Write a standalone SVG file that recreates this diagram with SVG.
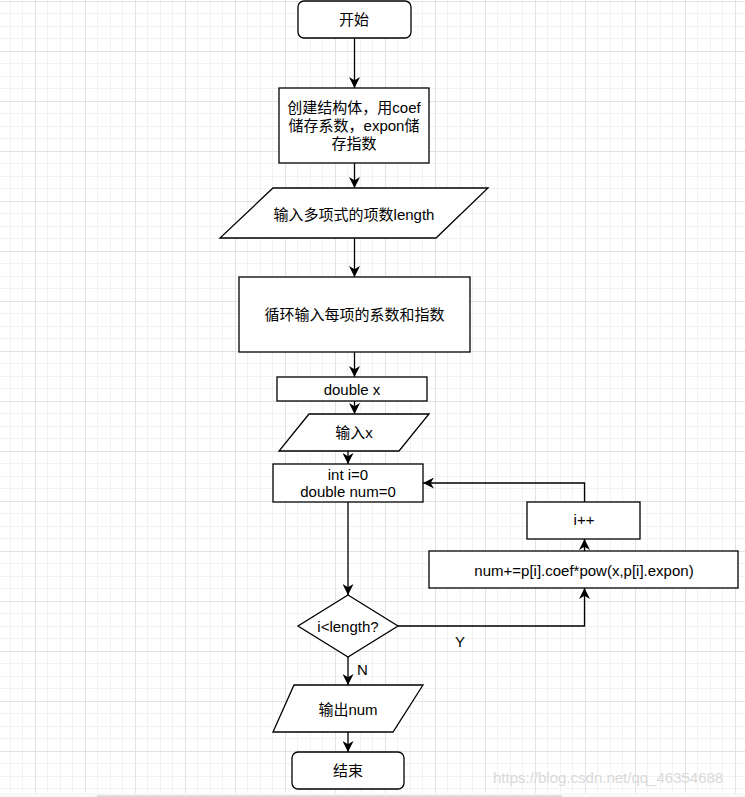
<svg xmlns="http://www.w3.org/2000/svg" width="745" height="797" viewBox="0 0 745 797">
<style>
.s{fill:#fff;stroke:#000;stroke-width:1.3}
.c{fill:none;stroke:#000;stroke-width:1.3}
text{font-family:"Liberation Sans","Noto Sans CJK SC",sans-serif;font-size:15px;fill:#000}
.m{text-anchor:middle}
</style>
<defs>
<pattern id="grid" patternUnits="userSpaceOnUse" x="35" y="1" width="50" height="50">
<rect x="12" y="0" width="1" height="50" fill="#f2f2f2"/>
<rect x="25" y="0" width="1" height="50" fill="#f2f2f2"/>
<rect x="37" y="0" width="1" height="50" fill="#f2f2f2"/>
<rect x="0" y="12" width="50" height="1" fill="#f2f2f2"/>
<rect x="0" y="25" width="50" height="1" fill="#f2f2f2"/>
<rect x="0" y="37" width="50" height="1" fill="#f2f2f2"/>
<rect x="0" y="0" width="1" height="50" fill="#e2e2e2"/>
<rect x="0" y="0" width="50" height="1" fill="#e2e2e2"/>
</pattern>
<marker id="arr" markerUnits="userSpaceOnUse" markerWidth="11" markerHeight="11" refX="10" refY="5" orient="auto" viewBox="0 0 10 10">
<path d="M0,0 L10,5 L0,10 L3,5 z" fill="#000"/>
</marker>
</defs>
<rect width="745" height="797" fill="#fff"/>
<rect width="745" height="793" fill="url(#grid)"/>
<rect x="0" y="793" width="745" height="4" fill="#f7f8fa"/>
<rect x="97" y="795" width="465" height="2" fill="#dedede"/>

<g id="connectors">
<path class="c" d="M354.5,38 V88" marker-end="url(#arr)"/>
<path class="c" d="M354.5,163 V188" marker-end="url(#arr)"/>
<path class="c" d="M354.5,238 V277" marker-end="url(#arr)"/>
<path class="c" d="M354.5,352 V377" marker-end="url(#arr)"/>
<path class="c" d="M354.5,401 V414" marker-end="url(#arr)"/>
<path class="c" d="M348,451 V464" marker-end="url(#arr)"/>
<path class="c" d="M348,502 V595" marker-end="url(#arr)"/>
<path class="c" d="M348,657 V685" marker-end="url(#arr)"/>
<path class="c" d="M348,732 V752" marker-end="url(#arr)"/>
<path class="c" d="M398,626 H584.5 V588" marker-end="url(#arr)"/>
<path class="c" d="M584.5,551 V539" marker-end="url(#arr)"/>
<path class="c" d="M584.5,502 V483 H423" marker-end="url(#arr)"/>
<text x="357" y="675">N</text>
<text x="460" y="647" class="m">Y</text>
</g>

<g id="start">
<rect class="s" x="298" y="1" width="113" height="37" rx="6"/>
<text x="354" y="25" class="m">开始</text>
</g>
<g id="struct">
<rect class="s" x="279" y="88" width="150" height="75"/>
<text x="354" y="113" class="m">创建结构体，用coef</text>
<text x="354" y="131" class="m">储存系数，expon储</text>
<text x="354" y="149" class="m">存指数</text>
</g>
<g id="input-length">
<polygon class="s" points="273,188 488,188 436,238 220,238"/>
<text x="354" y="220" class="m">输入多项式的项数length</text>
</g>
<g id="loop-input">
<rect class="s" x="239" y="277" width="231" height="75"/>
<text x="354.5" y="320" class="m">循环输入每项的系数和指数</text>
</g>
<g id="double-x">
<rect class="s" x="277" y="377" width="150" height="24"/>
<text x="352" y="395" class="m">double x</text>
</g>
<g id="input-x">
<polygon class="s" points="309,414 429,414 399,451 279,451"/>
<text x="354" y="438" class="m">输入x</text>
</g>
<g id="init">
<rect class="s" x="273" y="464" width="150" height="38"/>
<text x="348" y="480" class="m">int i=0</text>
<text x="348" y="497" class="m">double num=0</text>
</g>
<g id="inc">
<rect class="s" x="527" y="502" width="113" height="37"/>
<text x="584" y="525" class="m">i++</text>
</g>
<g id="accum">
<rect class="s" x="429" y="551" width="309" height="37"/>
<text x="584" y="576" class="m">num+=p[i].coef*pow(x,p[i].expon)</text>
</g>
<g id="cond">
<polygon class="s" points="348,595 398,626 348,657 298,626"/>
<text x="348" y="632" class="m">i&lt;length?</text>
</g>
<g id="output">
<polygon class="s" points="294,685 423,685 393,732 273,732"/>
<text x="348" y="715" class="m">输出num</text>
</g>
<g id="end">
<rect class="s" x="292" y="752" width="112" height="37" rx="6"/>
<text x="348" y="776" class="m">结束</text>
</g>
<text x="493" y="783" fill="#d9d9d9" style="fill:#d9d9d9">https://blog.csdn.net/qq_46354688</text>
</svg>
